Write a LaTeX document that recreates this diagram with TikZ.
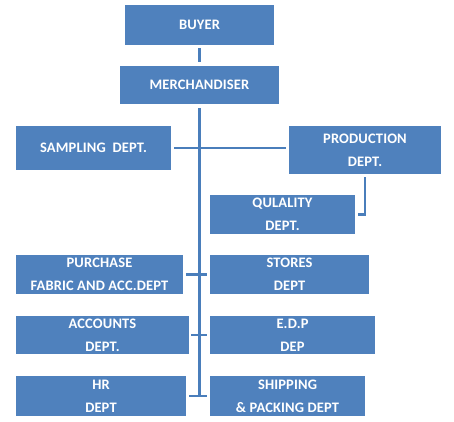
\documentclass[tikz,border=0pt]{standalone}
\usepackage{fontspec}
\setmainfont{Carlito}[LetterSpace=1]
\definecolor{boxblue}{HTML}{4F81BD}
\definecolor{lineblue}{HTML}{4A7EBB}
\tikzset{
    dept/.style={fill=boxblue,text=white,font=\fontsize{14.5}{23}\selectfont\bfseries,
        align=center,inner sep=0pt},
    link/.style={draw=lineblue,line width=2.5pt}
}

\begin{document}
\begin{tikzpicture}[x=1pt,y=-1pt]

    \useasboundingbox (0,0) rectangle (454,421);

    \node[dept,minimum width=149pt,minimum height=40pt] (buyer) at (199.5,25) {BUYER};
    \node[dept,minimum width=159pt,minimum height=38pt] (merch) at (199.5,85) {MERCHANDISER};
    \node[dept,minimum width=155pt,minimum height=44pt] (sampling) at (93.5,148) {SAMPLING\ \ DEPT.};
    \node[dept,minimum width=152pt,minimum height=48pt] (production) at (365,150) {PRODUCTION\\DEPT.};
    \node[dept,minimum width=145pt,minimum height=39pt] (quality) at (282.5,214.5) {QULALITY\\DEPT.};
    \node[dept,minimum width=167pt,minimum height=39pt] (purchase) at (99.5,274.5) {PURCHASE\\FABRIC AND ACC.DEPT};
    \node[dept,minimum width=159pt,minimum height=39pt] (stores) at (289.5,274.5) {STORES\\DEPT};
    \node[dept,minimum width=173pt,minimum height=38pt] (accounts) at (102.5,335) {ACCOUNTS\\DEPT.};
    \node[dept,minimum width=165pt,minimum height=38pt] (edp) at (292.5,335) {E.D.P\\DEP};
    \node[dept,minimum width=170pt,minimum height=40pt] (hr) at (101,396) {HR\\DEPT};
    \node[dept,minimum width=155pt,minimum height=40pt] (shipping) at (287.5,396) {SHIPPING\\\& PACKING DEPT};

    \coordinate (trunkend) at (199.5,396);

    \draw[link] ([yshift=-3pt]buyer.south) -- ([yshift=4pt]merch.north);
    \draw[link] ([yshift=-4pt]merch.south) -- (trunkend);
    \draw[link] ([xshift=3pt]sampling.east) -- ([xshift=-3pt]sampling.east -| production.west);
    \draw[link] ([yshift=-3pt]production.south) |- ([xshift=3pt]quality.east);
    \draw[link] ([xshift=3pt]purchase.east) -- ([xshift=-3pt]stores.west);
    \draw[link] ([xshift=2pt]accounts.east) -- ([xshift=-3pt]edp.west);
    \draw[link] ([xshift=3pt]hr.east) -- ([xshift=-3pt]shipping.west);
\end{tikzpicture}
\end{document}
